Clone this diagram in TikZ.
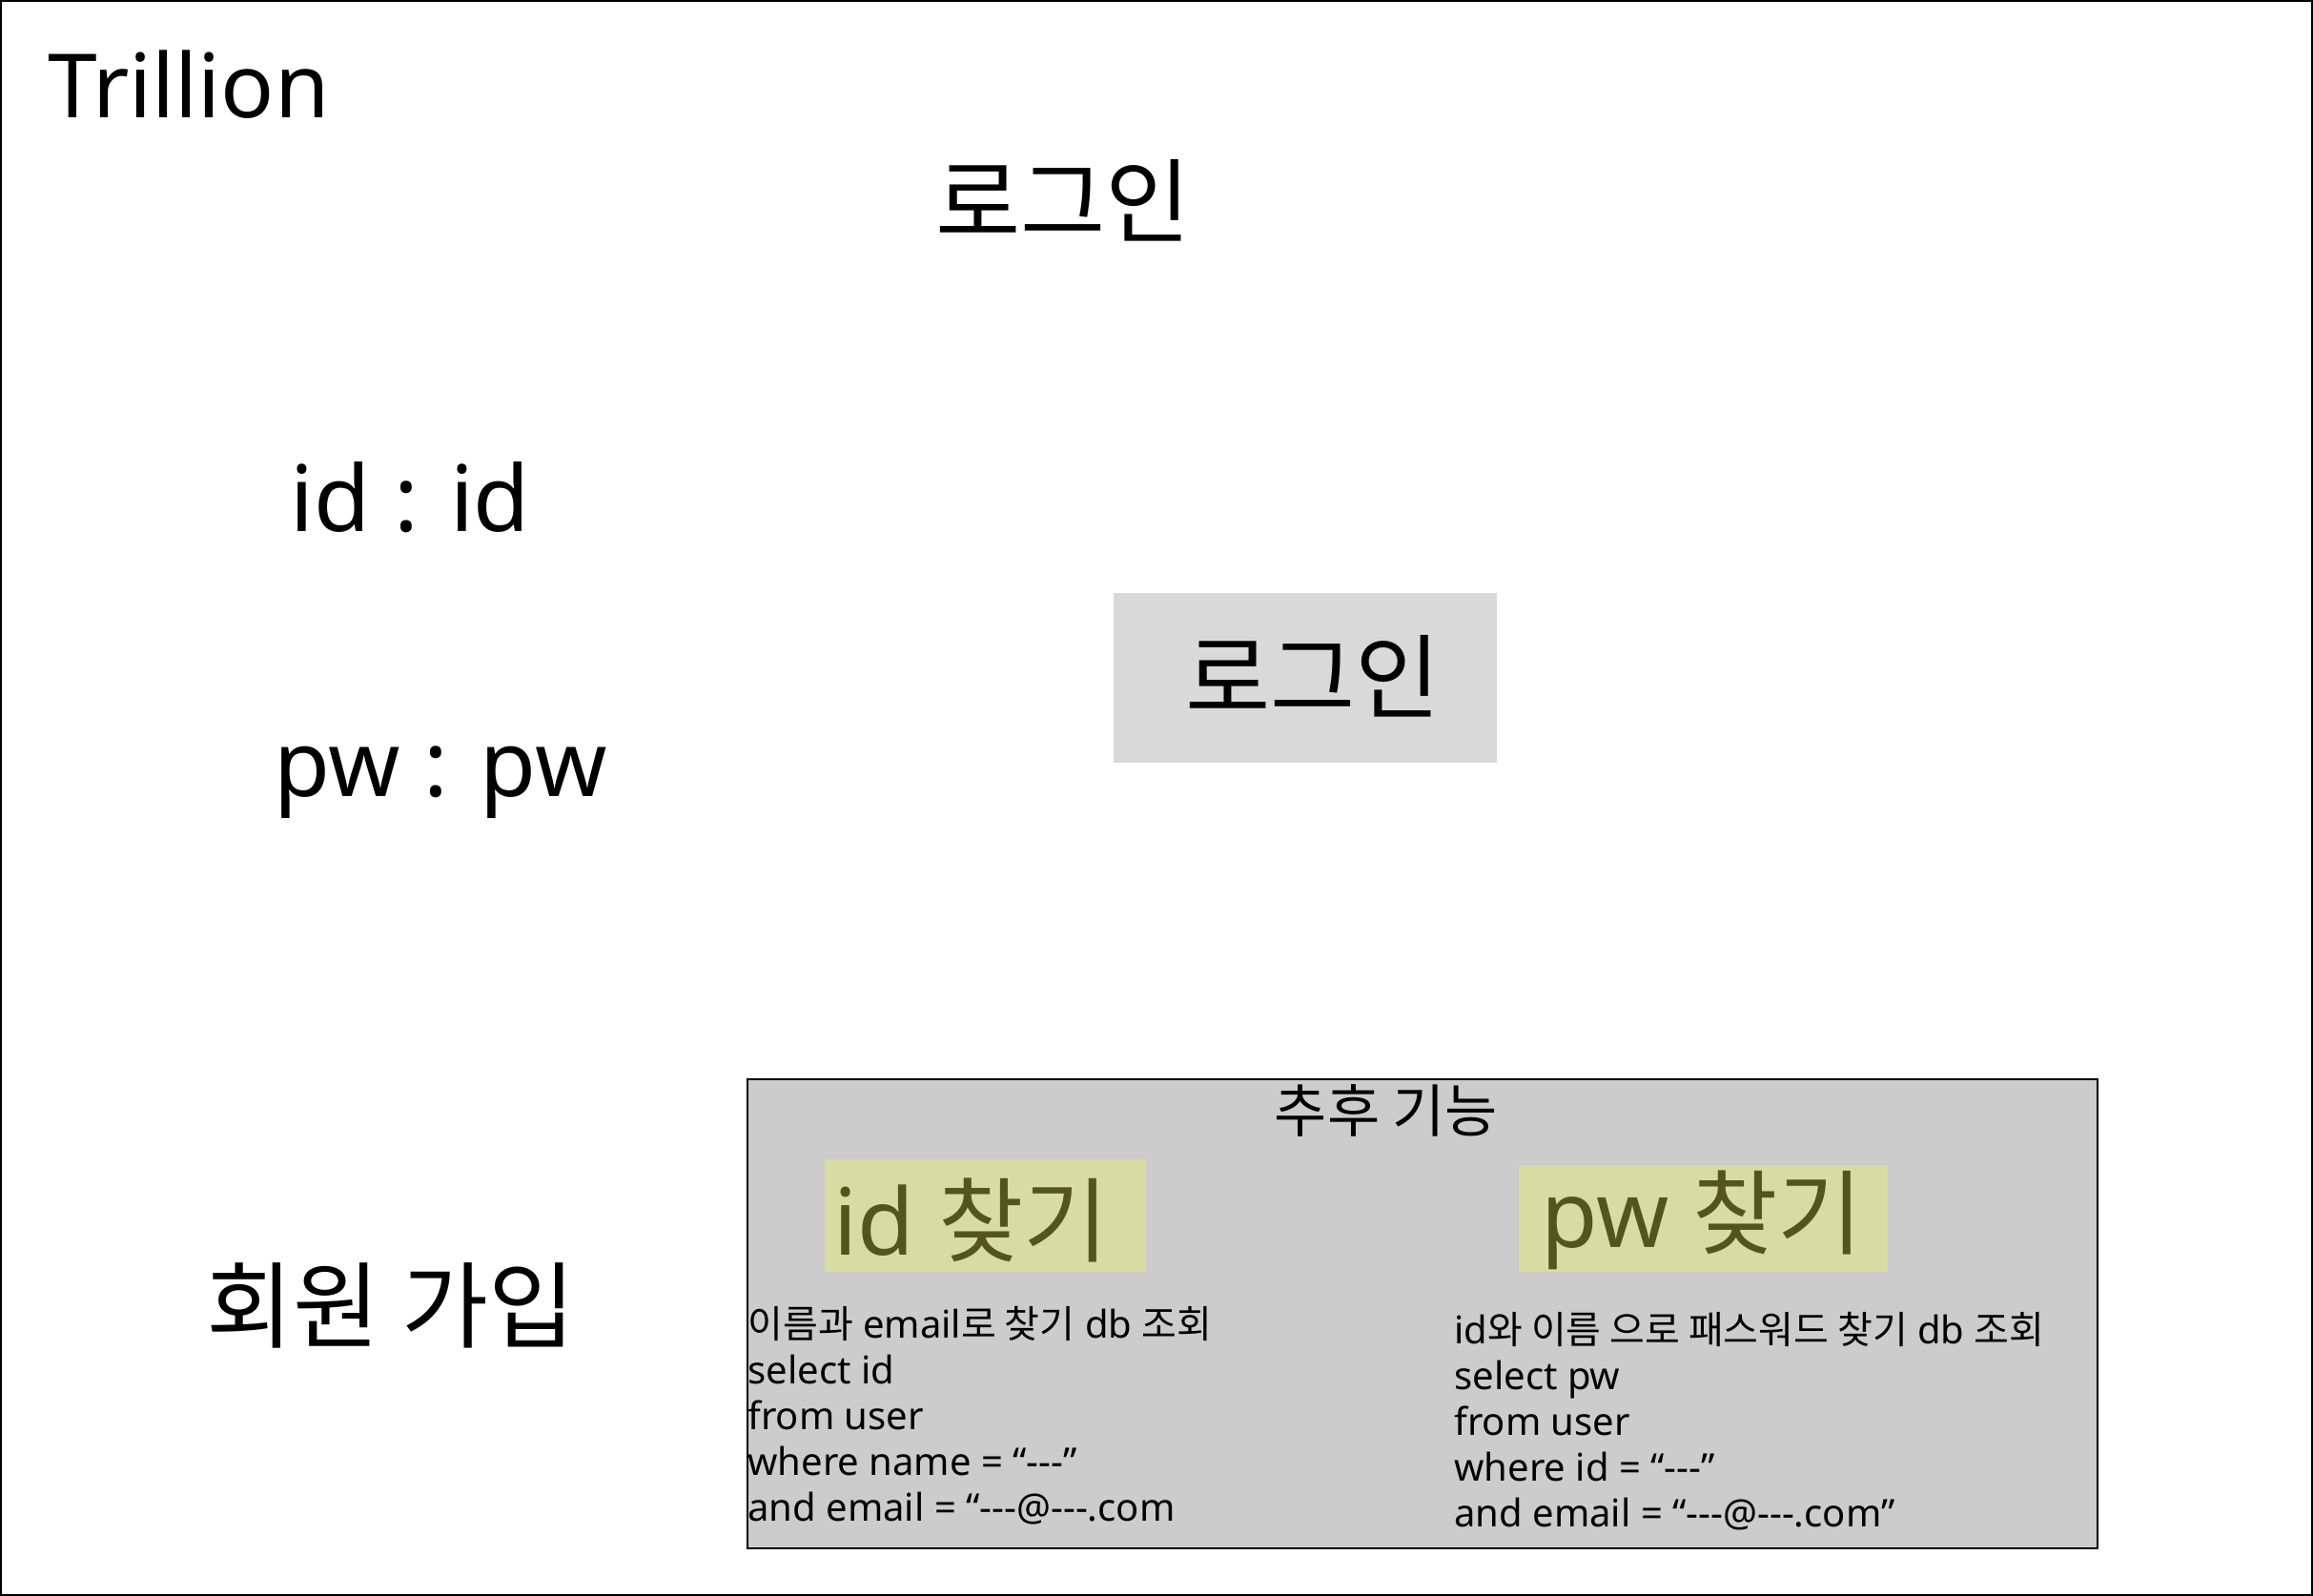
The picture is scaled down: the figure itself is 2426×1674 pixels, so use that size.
\documentclass[tikz,border=0pt]{standalone}
\usepackage{fontspec}
\setmainfont{Noto Sans}[Ligatures=NoCommon]
\newfontfamily\kr{Noto Sans CJK KR}
\definecolor{btngray}{HTML}{D9D9D9}
\definecolor{boxgray}{HTML}{CCCCCC}
\definecolor{hlfill}{HTML}{D6DDA0}
\definecolor{hltext}{HTML}{52561A}
\newcommand{\dsh}{{-}{-}{-}}
\begin{document}
\begin{tikzpicture}[x=0.5pt,y=-0.5pt,
  big/.style={inner sep=0pt,font=\fontsize{48}{56}\selectfont},
  bigkr/.style={inner sep=0pt,font=\fontsize{48.5}{56}\selectfont\kr},
  small/.style={inner sep=0pt,anchor=base west,font=\fontsize{20}{24}\selectfont},
  hlbox/.style={fill=hlfill,draw=none},
  hltxt/.style={inner sep=0pt,anchor=west,text=hltext,font=\fontsize{48.5}{56}\selectfont}]
\useasboundingbox (0,0) rectangle (2426,1674);
\draw[line width=1pt] (1,1) rectangle (2425,1673);
\node[inner sep=0pt,anchor=base west,font=\fontsize{46.5}{56}\selectfont] (trillion) at (50,124) {Trillion};
\node[bigkr] (title) at (1115,210) {로그인};
\node[big,anchor=base west] (idlbl) at (304,557) {id : id};
\node[big,anchor=base west] (pwlbl) at (287,835) {pw : pw};
\fill[btngray] (1168,622) rectangle (1570,800);
\node[bigkr] (loginbtn) at (1377,709) {로그인};
\node[bigkr,font=\fontsize{49.5}{56}\selectfont\kr] (signup) at (410,1369) {회원 가입};
\draw[fill=boxgray,line width=0.8pt] (784,1132) rectangle (2200,1624);
\node[inner sep=0pt,font=\fontsize{30}{36}\selectfont\kr] (future) at (1454,1165) {추후 기능};
\fill[hlbox] (865,1216) rectangle (1202,1334);
\node[hltxt] (findid) at (874,1280) {id {\kr 찾기}};
\fill[hlbox] (1593,1222) rectangle (1980,1334);
\node[hltxt] (findpw) at (1616,1280) {pw {\kr 찾기}};
\node[small] (l1) at (784,1403) {{\kr 이름과} email{\kr 로 찾기} db {\kr 조회}};
\node[small] (l2) at (784,1451) {select id};
\node[small] (l3) at (784,1499) {from user};
\node[small] (l4) at (784,1547) {where name = “\dsh”};
\node[small] (l5) at (784,1595) {and email = “\dsh@\dsh.com};
\node[small] (r1) at (1525,1409) {id{\kr 와 이름 으로 패스워드 찾기} db {\kr 조회}};
\node[small] (r2) at (1525,1457) {select pw};
\node[small] (r3) at (1525,1505) {from user};
\node[small] (r4) at (1525,1553) {where id = “\dsh”};
\node[small] (r5) at (1525,1601) {and email = “\dsh@\dsh.com”};
\end{tikzpicture}
\end{document}
